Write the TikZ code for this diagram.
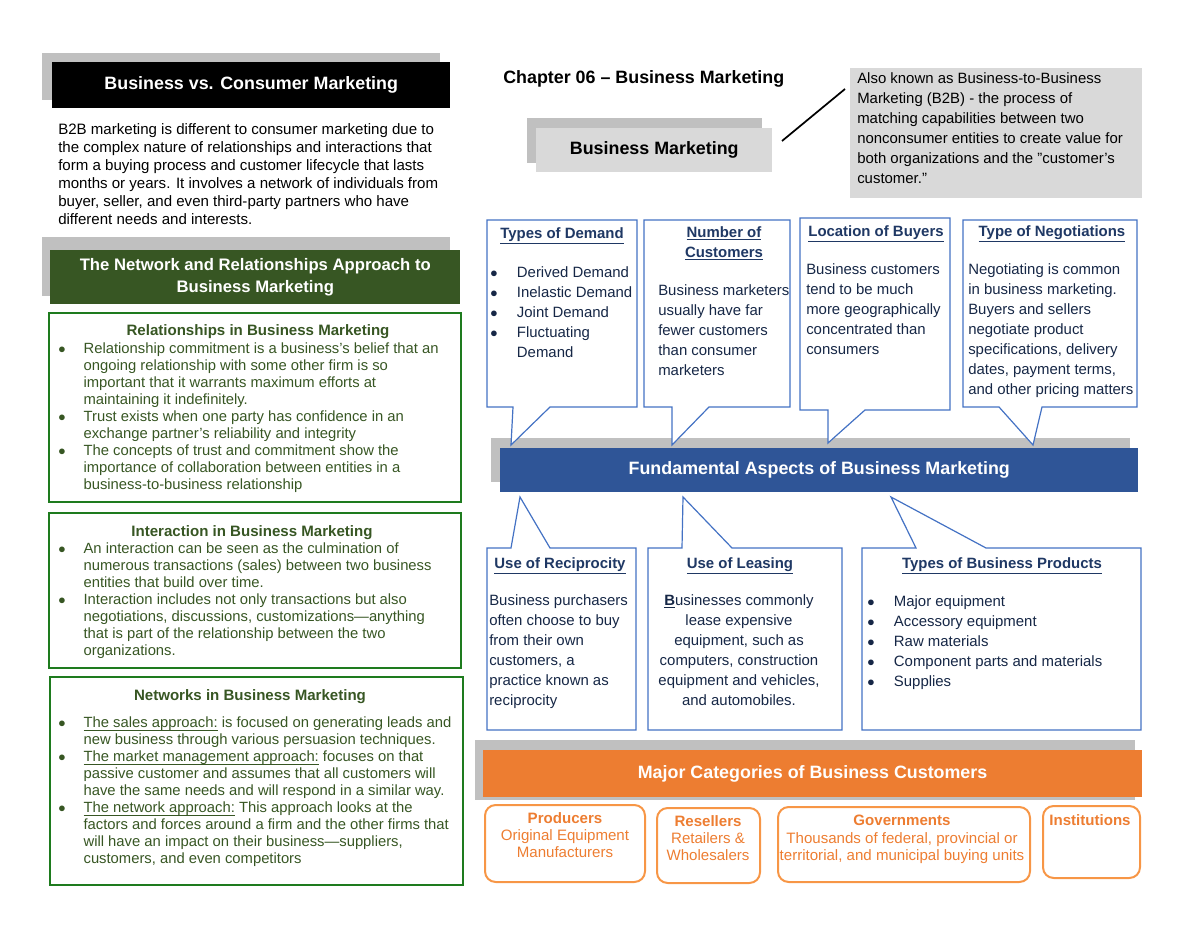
\documentclass[tikz,border=0pt]{standalone}
\usepackage{fontspec}
\setmainfont{Liberation Sans}
\usetikzlibrary{positioning}
\definecolor{bblue}{HTML}{2F5597}
\definecolor{cblue}{HTML}{4472C4}
\definecolor{tblue}{HTML}{1F3864}
\definecolor{gbar}{HTML}{C0C0C0}
\definecolor{dgreen}{HTML}{375623}
\definecolor{bgreen}{HTML}{1E7B1E}
\definecolor{orng}{HTML}{ED7D31}
\definecolor{lorng}{HTML}{F79646}
\definecolor{lgrey}{HTML}{D9D9D9}
\newcommand\myul[1]{\underline{\smash{#1}}}
\newcommand\gb{\makebox[19pt][l]{$\bullet$}}
\newcommand\gi{\hspace*{19pt}}
\newcommand\cb{\makebox[20pt][l]{$\bullet$}}
\begin{document}
\begin{tikzpicture}[x=0.75pt,y=-0.75pt,
 callout/.style={draw=cblue,line width=0.9pt,fill=white},
 ctext/.style={anchor=north west,inner sep=0pt,align=left,font=\fontsize{11.2}{15}\selectfont,text=tblue!70!black},
 chead/.style={anchor=north,inner sep=0pt,align=center,font=\bfseries\fontsize{11.2}{15}\selectfont,text=tblue},
 gtext/.style={anchor=north west,inner sep=0pt,align=left,font=\fontsize{11.1}{12.75}\selectfont,text=dgreen},
 ghead/.style={anchor=north,inner sep=0pt,font=\bfseries\fontsize{11.3}{12}\selectfont,text=dgreen},
 gbox/.style={draw=bgreen,line width=1.5pt},
 obox/.style={draw=lorng,line width=1.5pt,rounded corners=8pt},
 otext/.style={anchor=north,inner sep=0pt,align=center,font=\fontsize{11.3}{13}\selectfont,text=orng},
 barfont/.style={font=\bfseries\fontsize{13.4}{16}\selectfont}]
\useasboundingbox (0,0) rectangle (1200,927);
% ---------- left column
\fill[gbar] (42,53) rectangle (440,100);
\node[fill=black,minimum width=298.5pt,minimum height=34.5pt,anchor=north west,inner sep=0pt,text=white,barfont] (bvc) at (52,62) {Business vs. Consumer Marketing};
\node[anchor=north west,inner sep=0pt,align=left,font=\fontsize{11.3}{13.5}\selectfont] (intro) at (58,123) {B2B marketing is different to consumer marketing due to\\the complex nature of relationships and interactions that\\form a buying process and customer lifecycle that lasts\\months or years. It involves a network of individuals from\\buyer, seller, and even third-party partners who have\\different needs and interests.};
\fill[gbar] (42,237) rectangle (450,296);
\node[fill=dgreen,minimum width=307.5pt,minimum height=40.5pt,anchor=north west,inner sep=0pt,text=white,align=center,font=\bfseries\fontsize{12.5}{17}\selectfont] (net) at (50,250) {The Network and Relationships Approach to\\Business Marketing};
\draw[gbox] (49,313) rectangle (461,502);
\node[ghead] (rh) at (258,324) {Relationships in Business Marketing};
\node[gtext] (rt) at (58,343) {%
\gb Relationship commitment is a business's belief that an\\\gi ongoing relationship with some other firm is so\\\gi important that it warrants maximum efforts at\\\gi maintaining it indefinitely.\\
\gb Trust exists when one party has confidence in an\\\gi exchange partner's reliability and integrity\\
\gb The concepts of trust and commitment show the\\\gi importance of collaboration between entities in a\\\gi business-to-business relationship};
\draw[gbox] (49,513) rectangle (461,668);
\node[ghead] (ih) at (252,525) {Interaction in Business Marketing};
\node[gtext] (it) at (58,543) {%
\gb An interaction can be seen as the culmination of\\\gi numerous transactions (sales) between two business\\\gi entities that build over time.\\
\gb Interaction includes not only transactions but also\\\gi negotiations, discussions, customizations---anything\\\gi that is part of the relationship between the two\\\gi organizations.};
\draw[gbox] (50,677) rectangle (463,885);
\node[ghead] (nh) at (250,689) {Networks in Business Marketing};
\node[gtext] (nt) at (58,717) {%
\gb\myul{The sales approach:} is focused on generating leads and\\\gi new business through various persuasion techniques.\\
\gb\myul{The market management approach:} focuses on that\\\gi passive customer and assumes that all customers will\\\gi have the same needs and will respond in a similar way.\\
\gb\myul{The network approach:} This approach looks at the\\\gi factors and forces around a firm and the other firms that\\\gi will have an impact on their business---suppliers,\\\gi customers, and even competitors};
% ---------- top right
\node[anchor=north west,inner sep=0pt,barfont] (chap) at (503,70) {Chapter 06 -- Business Marketing};
\fill[gbar] (527,118) rectangle (762,163);
\node[fill=lgrey,minimum width=177pt,minimum height=33pt,anchor=north west,inner sep=0pt,barfont] (bm) at (536,128) {Business Marketing};
\node[fill=lgrey,minimum width=219pt,minimum height=97pt,anchor=north west,inner sep=0pt] (aka) at (850,68) {};
\node[anchor=north west,inner sep=0pt,align=left,font=\fontsize{11.2}{15}\selectfont] (akat) at (857,72) {Also known as Business-to-Business\\Marketing (B2B) - the process of\\matching capabilities between two\\nonconsumer entities to create value for\\both organizations and the "customer's\\customer."};
\coordinate (ln1) at (782,141);
\coordinate (ln2) at (845,89);
\draw[line width=1.3pt] (ln1) -- (ln2);
% ---------- fundamental bar (background first)
\fill[gbar] (491,438) rectangle (1130,482);
% ---------- upper callouts
\draw[callout] (487,220) -- (637,220) -- (637,407) -- (550,407) -- (511,445) -- (513,407) -- (487,407) -- cycle;
\draw[callout] (644,220) -- (790,220) -- (790,407) -- (709,407) -- (672,445) -- (672,407) -- (644,407) -- cycle;
\draw[callout] (800,218) -- (950,218) -- (950,410) -- (865,410) -- (828,443) -- (828,410) -- (800,410) -- cycle;
\draw[callout] (963,220) -- (1137,220) -- (1137,407) -- (1042,407) -- (1033,445) -- (999,407) -- (963,407) -- cycle;
\node[chead] (h1) at (562,227) {\underline{Types of Demand}};
\node[ctext] (t1) at (490,266) {\cb Derived Demand\\\cb Inelastic Demand\\\cb Joint Demand\\\cb Fluctuating\\\hspace*{20pt}Demand};
\node[chead] (h2) at (724,226) {\underline{Number of}\\\underline{Customers}};
\node[ctext] (t2) at (658,284) {Business marketers\\usually have far\\fewer customers\\than consumer\\marketers};
\node[chead] (h3) at (876,225) {\underline{Location of Buyers}};
\node[ctext] (t3) at (806,263) {Business customers\\tend to be much\\more geographically\\concentrated than\\consumers};
\node[chead] (h4) at (1052,225) {\underline{Type of Negotiations}};
\node[ctext] (t4) at (968,263) {Negotiating is common\\in business marketing.\\Buyers and sellers\\negotiate product\\specifications, delivery\\dates, payment terms,\\and other pricing matters};
\node[fill=bblue,minimum width=478.5pt,minimum height=33pt,anchor=north west,inner sep=0pt,text=white,barfont] (fab) at (500,448) {Fundamental Aspects of Business Marketing};
% ---------- lower callouts
\draw[callout] (487,548) -- (511,548) -- (520,497) -- (550,548) -- (636,548) -- (636,730) -- (487,730) -- cycle;
\draw[callout] (648,548) -- (682,548) -- (683,497) -- (732,548) -- (842,548) -- (842,730) -- (648,730) -- cycle;
\draw[callout] (862,548) -- (916,548) -- (891,497) -- (986,548) -- (1141,548) -- (1141,730) -- (862,730) -- cycle;
\node[chead] (h5) at (560,557) {\underline{Use of Reciprocity}};
\node[ctext] (t5) at (489,594) {Business purchasers\\often choose to buy\\from their own\\customers, a\\practice known as\\reciprocity};
\node[chead] (h6) at (740,557) {\underline{Use of Leasing}};
\node[ctext,anchor=north,align=center] (t6) at (739,594) {\textbf{\underline{B}}usinesses commonly\\lease expensive\\equipment, such as\\computers, construction\\equipment and vehicles,\\and automobiles.};
\node[chead] (h7) at (1002,557) {\underline{Types of Business Products}};
\node[ctext] (t7) at (867,595) {\cb Major equipment\\\cb Accessory equipment\\\cb Raw materials\\\cb Component parts and materials\\\cb Supplies};
% ---------- major categories
\fill[gbar] (475,740) rectangle (1135,800);
\node[fill=orng,minimum width=494pt,minimum height=35pt,anchor=north west,inner sep=0pt,text=white,barfont] (mcb) at (483,750) {Major Categories of Business Customers};
\draw[obox] (485,805) rectangle (645,882);
\draw[obox] (657,808) rectangle (760,883);
\draw[obox] (778,807) rectangle (1030,882);
\draw[obox] (1043,806) rectangle (1140,878);
\node[otext] (p) at (565,812) {\textbf{Producers}\\Original Equipment\\Manufacturers};
\node[otext] (r) at (708,815) {\textbf{Resellers}\\Retailers \&\\Wholesalers};
\node[otext] (g) at (902,815) {\textbf{Governments}\\Thousands of federal, provincial or\\territorial, and municipal buying units};
\node[otext] (in) at (1090,814) {\textbf{Institutions}};
\end{tikzpicture}
\end{document}
